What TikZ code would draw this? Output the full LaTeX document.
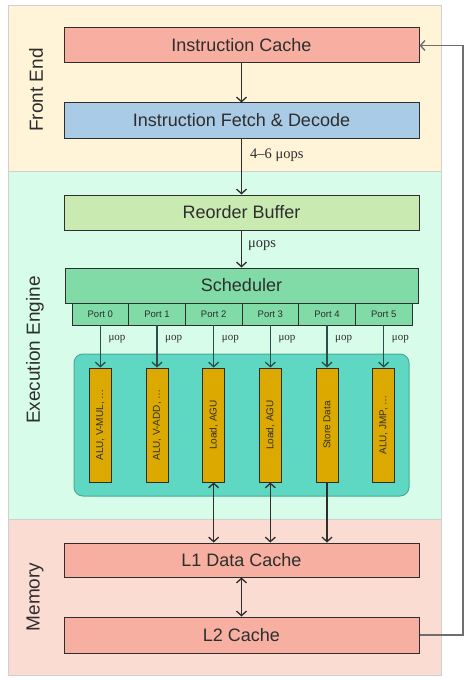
\documentclass[tikz,border=0pt]{standalone}
\usepackage{fontspec}
\setmainfont{Liberation Sans}
\newfontfamily\serifl{Liberation Serif}
\usetikzlibrary{arrows.meta}
\definecolor{febg}{HTML}{FFF3D8}
\definecolor{exbg}{HTML}{D8FCEA}
\definecolor{membg}{HTML}{FADCD3}
\definecolor{salmon}{HTML}{F7AFA1}
\definecolor{lblue}{HTML}{A9CBE6}
\definecolor{robg}{HTML}{C9EAB1}
\definecolor{schg}{HTML}{80DBA6}
\definecolor{tealf}{HTML}{5ED8C2}
\definecolor{teald}{HTML}{4FA896}
\definecolor{gold}{HTML}{DCA900}
\definecolor{darkl}{HTML}{2E2E2E}
\definecolor{portarr}{HTML}{2A4E4A}
\definecolor{fbgray}{HTML}{6E6E6E}
\definecolor{bandline}{HTML}{D0D0D0}
\tikzset{
  band/.style={draw=bandline, line width=0.9pt},
  bigbox/.style={draw=darkl, line width=1pt, minimum width=355pt, minimum height=35pt, inner sep=0pt, font=\fontsize{18}{21}\selectfont, text=darkl},
  portbox/.style={draw=darkl, line width=0.9pt, fill=schg, minimum width=56.67pt, minimum height=22pt, inner sep=0pt, font=\fontsize{9.5}{11}\selectfont, text=darkl},
  unitbox/.style={draw=darkl, line width=0.9pt, fill=gold, minimum width=22pt, minimum height=114pt, inner sep=0pt},
  unittext/.style={rotate=90, font=\fontsize{10}{12}\selectfont, text=darkl},
  seclabel/.style={rotate=90, font=\fontsize{19}{22}\selectfont, text=darkl},
  tip/.style={},
  arr/.style={draw=darkl, line width=1.3pt, -{Straight Barb[length=4.5pt,width=10pt]}},
  darr/.style={draw=darkl, line width=1.3pt, {Straight Barb[length=4.5pt,width=10pt]}-{Straight Barb[length=4.5pt,width=10pt]}},
  parr/.style={draw=portarr, line width=1.3pt, -{Straight Barb[length=4.5pt,width=10pt]}},
  mulab/.style={font=\serifl\fontsize{14.5}{16}\selectfont, text=darkl, anchor=west, inner sep=0pt},
  mulabs/.style={font=\serifl\fontsize{11}{13}\selectfont, text=darkl, anchor=west, inner sep=0pt},
}
\begin{document}
\begin{tikzpicture}[x=1pt,y=-1pt]
\useasboundingbox (0,0) rectangle (474,682);
\fill[white] (0,0) rectangle (474,682);
% bands
\filldraw[band, fill=febg] (8,5) rectangle (441,171);
\filldraw[band, fill=exbg] (8,171) rectangle (441,519);
\filldraw[band, fill=membg] (8,519) rectangle (441,675);
\node[seclabel] (lfe) at (36,90) {Front End};
\node[seclabel] (lee) at (35,350) {Execution Engine};
\node[seclabel] (lme) at (35,597) {Memory};
% front end
\node[bigbox, fill=salmon] (ic) at (241.5,45.5) {Instruction Cache};
\node[bigbox, fill=lblue] (ifd) at (241.5,120.5) {Instruction Fetch \& Decode};
% execution
\node[bigbox, fill=robg] (rob) at (241.5,212.5) {Reorder Buffer};
\node[bigbox, fill=schg, minimum width=353pt] (sch) at (241.5,285.5) {Scheduler};
\filldraw[draw=teald, line width=1pt, fill=tealf, rounded corners=9pt] (74,354) rectangle (409,496);
\foreach \i/\t in {0/{ALU, V-MUL, …},1/{ALU, V-ADD, …},2/{Load, AGU},3/{Load, AGU},4/{Store Data},5/{ALU, JMP, …}}{
  \pgfmathsetmacro{\cx}{72+56.667*\i+28.333}
  \node[portbox] (p\i) at (\cx,314) {Port \i};
  \node[unitbox] (u\i) at (\cx,425) {};
  \node[unittext] (ut\i) at (u\i) {\t};
  \draw[parr] (p\i.south) -- (u\i.north);
  \node[mulabs] (ml\i) at (\cx+8,339) {μop};
}
% memory
\node[bigbox, fill=salmon, minimum height=34pt] (l1) at (241.5,560) {L1 Data Cache};
\node[bigbox, fill=salmon, minimum height=36pt] (l2) at (241.5,635) {L2 Cache};
% arrows
\draw[arr] (ic.south) -- (ifd.north);
\draw[arr] (ifd.south) -- (rob.north);
\node[mulab] (lab1) at (250,155) {4–6 μops};
\draw[arr] (rob.south) -- (sch.north);
\node[mulab] (lab2) at (248,246) {μops};
\draw[darr] (u2.south) -- (u2.south |- l1.north);
\draw[darr] (u3.south) -- (u3.south |- l1.north);
\draw[arr] (u4.south) -- (u4.south |- l1.north);
\draw[darr] (l1.south) -- (l2.north);
\coordinate (fb1) at (463,635);
\coordinate (fb2) at (463,45.5);
\draw[draw=fbgray, line width=1.4pt, -{Straight Barb[length=4.5pt,width=10pt]}] (l2.east) -- (fb1) -- (fb2) -- (ic.east);
\end{tikzpicture}
\end{document}
